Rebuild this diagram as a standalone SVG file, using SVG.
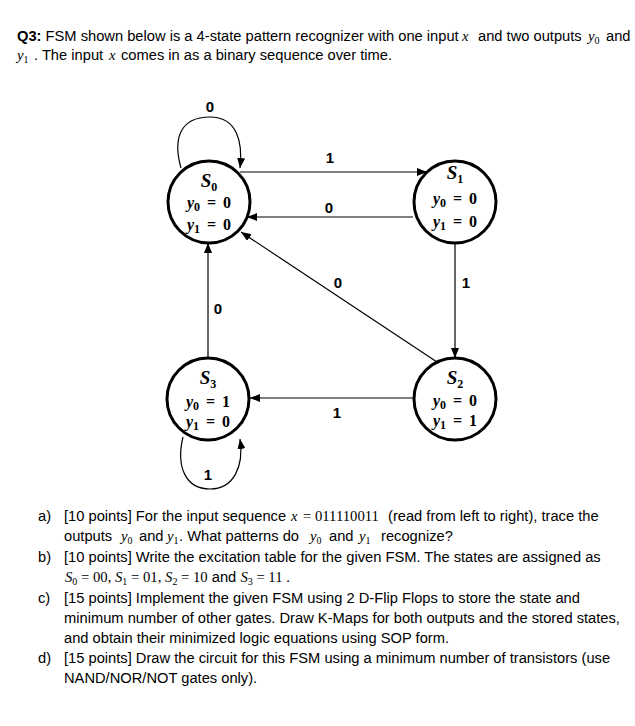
<svg xmlns="http://www.w3.org/2000/svg" width="635" height="726" viewBox="0 0 635 726">
<style>
.t{font-family:"Liberation Sans",Arial,sans-serif;font-size:14.7px;fill:#000}
.m{font-family:"Liberation Serif","Times New Roman",serif;font-style:italic}
.r{font-family:"Liberation Serif","Times New Roman",serif}
.sb{font-size:10px;font-style:normal}
.st{font-family:"Liberation Serif","Times New Roman",serif;font-weight:bold;font-style:italic;font-size:16px;fill:#000;text-anchor:middle;word-spacing:3px}
.st .u{font-style:normal}
.st .s{font-style:normal;font-size:12px}
.S{font-size:19px}
.node{fill:#fff;stroke:#000;stroke-width:3}
.ed{fill:none;stroke:#000;stroke-width:1.2}
.lb{font-family:"Liberation Sans",Arial,sans-serif;font-weight:bold;font-size:15px;text-anchor:middle;fill:#000}
</style>
<defs>
<marker id="ah" markerWidth="10" markerHeight="8" refX="10" refY="4" orient="auto" markerUnits="userSpaceOnUse"><path d="M0,0 L10,4 L0,8 z" fill="#000"/></marker>
</defs>
<rect width="635" height="726" fill="#fff"/>

<g id="header">
<text class="t" x="17" y="41"><tspan font-weight="bold">Q3:</tspan> FSM shown below is a 4-state pattern recognizer with one input <tspan class="m" x="462">x</tspan><tspan x="478">and two outputs</tspan><tspan class="m" x="588">y</tspan><tspan class="r sb" dy="3">0</tspan><tspan x="606" dy="-3">and</tspan></text>
<text class="t" x="17" y="60"><tspan class="m">y</tspan><tspan class="r sb" dy="3">1</tspan><tspan x="34" dy="-3">. The input</tspan><tspan class="m" x="109">x</tspan><tspan x="121">comes in as a binary sequence over time.</tspan></text>
</g>

<g id="connectors">
<path class="ed" d="M181,168 C173,140 179,117 210,117 C237,117 243,142 240,168" marker-end="url(#ah)"/>
<line class="ed" x1="240" y1="172" x2="427" y2="172" marker-end="url(#ah)"/>
<line class="ed" x1="413" y1="217" x2="247" y2="217" marker-end="url(#ah)"/>
<line class="ed" x1="437" y1="362" x2="241" y2="232" marker-end="url(#ah)"/>
<line class="ed" x1="455" y1="243" x2="455" y2="358" marker-end="url(#ah)"/>
<line class="ed" x1="413" y1="398" x2="250" y2="398" marker-end="url(#ah)"/>
<line class="ed" x1="208" y1="358" x2="208" y2="243" marker-end="url(#ah)"/>
<path class="ed" d="M183,437 C176,466 185,489 210,489 C234,489 244,466 240,439" marker-end="url(#ah)"/>
<text class="lb" x="210" y="112">0</text>
<text class="lb" x="330" y="163">1</text>
<text class="lb" x="329" y="213">0</text>
<text class="lb" x="338" y="288">0</text>
<text class="lb" x="466" y="288">1</text>
<text class="lb" x="218" y="314">0</text>
<text class="lb" x="337" y="418">1</text>
<text class="lb" x="208" y="480">1</text>
</g>

<g id="S0">
<circle class="node" cx="209" cy="202" r="41"/>
<text class="st" x="209" y="187"><tspan class="S">S</tspan><tspan class="s" dy="4">0</tspan></text>
<text class="st" x="209" y="208">y<tspan class="s" dy="3">0</tspan><tspan class="u" dy="-3"> = 0</tspan></text>
<text class="st" x="209" y="230">y<tspan class="s" dy="3">1</tspan><tspan class="u" dy="-3"> = 0</tspan></text>
</g>
<g id="S1">
<circle class="node" cx="455" cy="202" r="41"/>
<text class="st" x="455" y="179"><tspan class="S">S</tspan><tspan class="s" dy="4">1</tspan></text>
<text class="st" x="455" y="204">y<tspan class="s" dy="3">0</tspan><tspan class="u" dy="-3"> = 0</tspan></text>
<text class="st" x="455" y="227">y<tspan class="s" dy="3">1</tspan><tspan class="u" dy="-3"> = 0</tspan></text>
</g>
<g id="S2">
<circle class="node" cx="455" cy="399" r="41"/>
<text class="st" x="455" y="384"><tspan class="S">S</tspan><tspan class="s" dy="4">2</tspan></text>
<text class="st" x="455" y="406">y<tspan class="s" dy="3">0</tspan><tspan class="u" dy="-3"> = 0</tspan></text>
<text class="st" x="455" y="426">y<tspan class="s" dy="3">1</tspan><tspan class="u" dy="-3"> = 1</tspan></text>
</g>
<g id="S3">
<circle class="node" cx="208" cy="399" r="41"/>
<text class="st" x="208" y="384"><tspan class="S">S</tspan><tspan class="s" dy="4">3</tspan></text>
<text class="st" x="208" y="407">y<tspan class="s" dy="3">0</tspan><tspan class="u" dy="-3"> = 1</tspan></text>
<text class="st" x="208" y="427">y<tspan class="s" dy="3">1</tspan><tspan class="u" dy="-3"> = 0</tspan></text>
</g>

<g id="questions">
<text class="t" x="38" y="521">a)</text>
<text class="t" x="64" y="521">[10 points] For the input sequence <tspan class="m" x="291">x</tspan><tspan class="r" x="303">= 011110011</tspan><tspan x="388">(read from left to right), trace the</tspan></text>
<text class="t" x="64" y="541">outputs<tspan class="m" x="121">y</tspan><tspan class="r sb" dy="3">0</tspan><tspan x="139" dy="-3">and</tspan><tspan class="m" x="167">y</tspan><tspan class="r sb" dy="3">1</tspan><tspan x="179" dy="-3">. What patterns do</tspan><tspan class="m" x="310">y</tspan><tspan class="r sb" dy="3">0</tspan><tspan x="329" dy="-3">and</tspan><tspan class="m" x="359">y</tspan><tspan class="r sb" dy="3">1</tspan><tspan x="381" dy="-3">recognize?</tspan></text>
<text class="t" x="38" y="562">b)</text>
<text class="t" x="64" y="562">[10 points] Write the excitation table for the given FSM. The states are assigned as</text>
<text class="t" x="65" y="582"><tspan class="m">S</tspan><tspan class="r sb" dy="3">0</tspan><tspan class="r" dy="-3"> = 00, </tspan><tspan class="m">S</tspan><tspan class="r sb" dy="3">1</tspan><tspan class="r" dy="-3"> = 01, </tspan><tspan class="m">S</tspan><tspan class="r sb" dy="3">2</tspan><tspan class="r" dy="-3"> = 10</tspan> and <tspan class="m">S</tspan><tspan class="r sb" dy="3">3</tspan><tspan class="r" dy="-3"> = 11 .</tspan></text>
<text class="t" x="38" y="603">c)</text>
<text class="t" x="64" y="603">[15 points] Implement the given FSM using 2 D-Flip Flops to store the state and</text>
<text class="t" x="64" y="623">minimum number of other gates. Draw K-Maps for both outputs and the stored states,</text>
<text class="t" x="64" y="643">and obtain their minimized logic equations using SOP form.</text>
<text class="t" x="38" y="663">d)</text>
<text class="t" x="64" y="663">[15 points] Draw the circuit for this FSM using a minimum number of transistors (use</text>
<text class="t" x="64" y="683">NAND/NOR/NOT gates only).</text>
</g>
</svg>
